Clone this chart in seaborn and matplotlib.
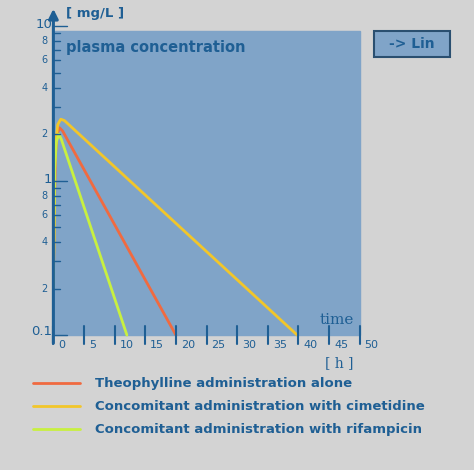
import matplotlib
matplotlib.use("Agg")
import matplotlib.pyplot as plt
import seaborn as sns
import pandas as pd
from matplotlib.patches import Rectangle

sns.set_theme(style="white")
plt.rcParams['font.family'] = ['DejaVu Sans']

series = ["Theophylline administration alone",
          "Concomitant administration with cimetidine",
          "Concomitant administration with rifampicin"]
colors = ["#f06a40", "#f2c62a", "#c8f040"]
t_theo = [0, 0.3, 0.6, 1.0, 1.5, 20.0]
c_theo = [0.22, 1.4, 2.0, 2.2, 2.1, 0.1]
t_cim = [0, 0.3, 0.7, 1.2, 1.8, 39.8]
c_cim = [0.25, 1.6, 2.3, 2.5, 2.45, 0.1]
t_rif = [0, 0.2, 0.5, 0.9, 1.3, 12.0]
c_rif = [0.2, 1.2, 1.8, 2.0, 1.85, 0.1]
xticks = [0, 5, 10, 15, 20, 25, 30, 35, 40, 45, 50]

df = pd.concat([
    pd.DataFrame({"t": t_theo, "c": c_theo, "s": series[0]}),
    pd.DataFrame({"t": t_cim, "c": c_cim, "s": series[1]}),
    pd.DataFrame({"t": t_rif, "c": c_rif, "s": series[2]}),
])

BG = "#d3d3d3"; BLUE = "#80a4c8"; AX = "#1f5f94"
fig = plt.figure(figsize=(4.74, 4.70), dpi=100, facecolor=BG)
ax = fig.add_axes([35/474, (470-346)/470, 337/474, 332/470])
ax.set_facecolor(BG)
ax.set_yscale("log")
ax.set_xlim(-3, 52)
ax.set_ylim(0.085, 12)
ax.add_patch(Rectangle((0, 0.1), 50, 9.3 - 0.1, color=BLUE, zorder=0))
sns.lineplot(data=df, x="t", y="c", hue="s", palette=colors, sort=False,
             estimator=None, lw=2, ax=ax, legend=False, zorder=3)
for s in ax.spines.values():
    s.set_visible(False)
ax.set_xticks([]); ax.set_yticks([]); ax.minorticks_off()
ax.set_xlabel(""); ax.set_ylabel("")

ax.annotate("", xy=(52.5, 0.1), xytext=(-3, 0.1),
            arrowprops=dict(arrowstyle="-|>", color=AX, lw=2.2, mutation_scale=14), zorder=5)
ax.annotate("", xy=(0, 13.5), xytext=(0, 0.085),
            arrowprops=dict(arrowstyle="-|>", color=AX, lw=2.2, mutation_scale=14),
            annotation_clip=False, zorder=5)
for x in xticks:
    ax.plot([x, x], [0.088, 0.114], color=AX, lw=1.5, zorder=5)
    ax.text(x + 0.8, 0.093, str(x), color=AX, fontsize=8, va="top", ha="left")
for v in [0.1, 0.2, 0.3, 0.4, 0.5, 0.6, 0.7, 0.8, 0.9, 1, 2, 3, 4, 5, 6, 7, 8, 9, 10]:
    major = v in (0.1, 1, 10)
    ax.plot([0, 2.2 if major else 1.0], [v, v], color=AX, lw=1, zorder=5)
for v, lab in [(0.2, "2"), (0.4, "4"), (0.6, "6"), (0.8, "8"), (2, "2"), (4, "4"), (6, "6"), (8, "8")]:
    ax.text(-1.0, v, lab, color=AX, fontsize=7, ha="right", va="center")
ax.text(-0.2, 1.02, "1", color=AX, fontsize=9.5, ha="right", va="center")
ax.text(-0.2, 10.3, "10", color=AX, fontsize=9.5, ha="right", va="center")
ax.text(-0.2, 0.105, "0.1", color=AX, fontsize=9.5, ha="right", va="center")
ax.text(2.0, 12.0, "[ mg/L ]", color=AX, fontsize=9.5, fontweight="bold", va="center")
ax.text(2.0, 7.3, "plasma concentration", color=AX, fontsize=10.5, fontweight="bold", va="center")
ax.text(49, 0.125, "time", color=AX, fontsize=11, family="DejaVu Serif", ha="right", va="center")
ax.text(49.0, 0.0655, "[ h ]", color=AX, fontsize=10, family="DejaVu Serif", ha="right", va="center")

fig.patches.append(Rectangle((374/474, 1 - 57/470), 76/474, 26/470, transform=fig.transFigure,
                             facecolor=BLUE, edgecolor="#2a4f70", lw=1.5))
fig.text(412/474, 1 - 44/470, "-> Lin", color=AX, fontsize=10, fontweight="bold",
         ha="center", va="center")

for i, (lab, col) in enumerate(zip(series, colors)):
    y = 1 - (383 + 23 * i) / 470
    fig.add_artist(plt.Line2D([33/474, 80/474], [y, y], color=col, lw=2, transform=fig.transFigure))
    fig.text(95/474, y, lab, color=AX, fontsize=9.5, fontweight="bold", va="center")

fig.savefig("out.png", dpi=100, facecolor=BG)
